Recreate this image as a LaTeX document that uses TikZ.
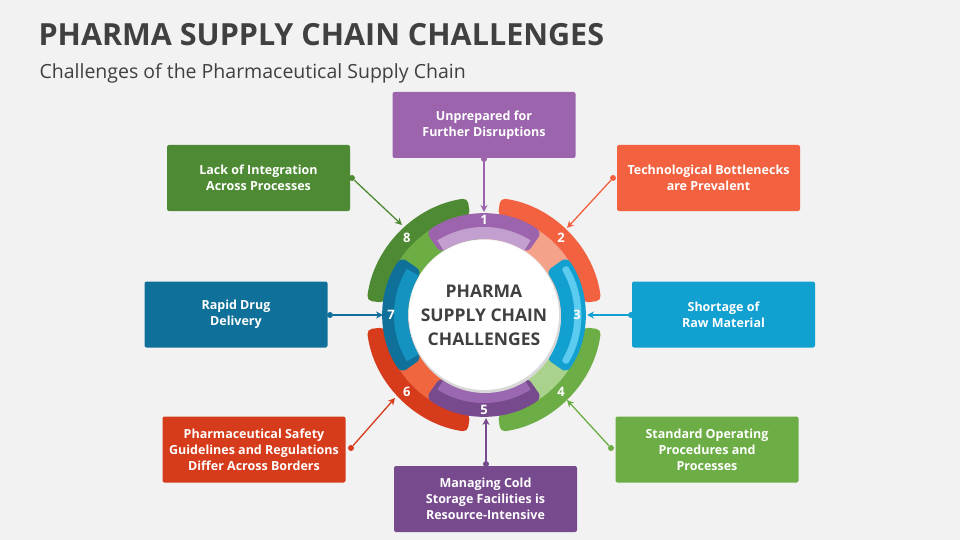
\documentclass[tikz,border=0pt]{standalone}
\usepackage{fontspec}
\setmainfont{Open Sans}
\usetikzlibrary{calc,arrows.meta}
\definecolor{bg}{HTML}{F2F2F2}
\definecolor{cA}{HTML}{9C64AC}
\definecolor{cAl}{HTML}{C39FCF}
\definecolor{cB}{HTML}{F26140}
\definecolor{cBl}{HTML}{F4A28A}
\definecolor{cC}{HTML}{11A0D0}
\definecolor{cCl}{HTML}{5CCBF0}
\definecolor{cD}{HTML}{6CAE45}
\definecolor{cDl}{HTML}{A9D38C}
\definecolor{cE}{HTML}{774A8E}
\definecolor{cEl}{HTML}{9A68B0}
\definecolor{cF}{HTML}{D63B1B}
\definecolor{cFl}{HTML}{F0663E}
\definecolor{cG}{HTML}{0F7099}
\definecolor{cGl}{HTML}{1492C0}
\definecolor{cH}{HTML}{4E8A33}
\definecolor{cHl}{HTML}{6DAE44}
\definecolor{tx}{HTML}{404040}
\tikzset{
  box/.style={rounded corners=2pt,minimum width=183pt,minimum height=66pt,text=white,align=center,font=\fontsize{12.5}{16}\selectfont\bfseries,inner sep=0pt},
  con/.style={line width=1.3pt,-{Stealth[length=7pt,width=7pt]}},
  dot/.style={circle,inner sep=0pt,minimum size=6pt},
  num/.style={text=white,font=\fontsize{13}{13}\selectfont\bfseries}
}
\newcommand{\sect}[5]{\fill[#5] ($(C)+(#1:#3)$) arc[start angle=#1,end angle=#2,radius=#3] -- ($(C)+(#2:#4)$) arc[start angle=#2,end angle=#1,radius=#4] -- cycle;}
\begin{document}
\begin{tikzpicture}[x=1pt,y=1pt]
\fill[bg] (0,0) rectangle (960,-540);
\useasboundingbox (0,0) rectangle (960,-540);
\node[anchor=west,text=tx,font=\fontsize{30.5}{30}\selectfont\bfseries] (title) at (35,-35) {PHARMA SUPPLY CHAIN CHALLENGES};
\node[anchor=west,text=tx,font=\fontsize{19.5}{20}\selectfont] (sub) at (36,-73) {Challenges of the Pharmaceutical Supply Chain};
\coordinate (C) at (484,-315);
% corner sectors
\sect{0}{90}{76}{101}{cBl}
\sect{-90}{0}{76}{101}{cDl}
\sect{180}{270}{76}{101}{cFl}
\sect{90}{180}{76}{101}{cHl}
% outer arcs
\sect{7}{82}{100}{118}{cB,rounded corners=5pt}
\sect{-82}{-7}{100}{118}{cD,rounded corners=5pt}
\sect{187}{262}{100}{118}{cF,rounded corners=5pt}
\sect{98}{173}{100}{118}{cH,rounded corners=5pt}
% bands
\sect{55}{125}{76}{101}{cA,rounded corners=6pt}
\sect{58}{122}{76}{88}{cAl}
\sect{-35}{35}{76}{101}{cC,rounded corners=6pt}
\sect{-31}{31}{90}{97}{cCl,rounded corners=3pt}
\sect{-125}{-55}{76}{101}{cE,rounded corners=6pt}
\sect{-122}{-58}{76}{88}{cEl}
\sect{145}{215}{76}{101}{cG,rounded corners=6pt}
\sect{149}{211}{76}{90}{cGl}
% center
\fill[black!15] ($(C)+(1,-2)$) circle (76);
\node[circle,fill=white,minimum size=150pt,inner sep=0pt,align=center,text=tx,font=\fontsize{17.5}{24}\selectfont\bfseries] (ctr) at (C) {PHARMA\\SUPPLY CHAIN\\CHALLENGES};
% numbers
\node[num] (n1) at ($(C)+(90:95)$) {1};
\node[num] (n2) at ($(C)+(45:109)$) {2};
\node[num] (n3) at ($(C)+(0:93)$) {3};
\node[num] (n4) at ($(C)+(-45:109)$) {4};
\node[num] (n5) at ($(C)+(-90:95)$) {5};
\node[num] (n6) at ($(C)+(-135:109)$) {6};
\node[num] (n7) at ($(C)+(180:93)$) {7};
\node[num] (n8) at ($(C)+(135:109)$) {8};
% boxes
\node[box,fill=cA] (b1) at (484,-125) {Unprepared for\\Further Disruptions};
\node[box,fill=cB] (b2) at (708.5,-178) {Technological Bottlenecks\\are Prevalent};
\node[box,fill=cC] (b3) at (723.5,-314.5) {Shortage of\\Raw Material};
\node[box,fill=cD] (b4) at (707,-449.5) {Standard Operating\\Procedures and\\Processes};
\node[box,fill=cE] (b5) at (485.5,-499) {Managing Cold\\Storage Facilities is\\Resource-Intensive};
\node[box,fill=cF] (b6) at (254,-449.5) {Pharmaceutical Safety\\Guidelines and Regulations\\Differ Across Borders};
\node[box,fill=cG] (b7) at (236,-314.5) {Rapid Drug\\Delivery};
\node[box,fill=cH] (b8) at (258.5,-178) {Lack of Integration\\Across Processes};
% connectors
\node[dot,fill=cA] (d1) at (484,-159) {};
\node[dot,fill=cB] (d2) at (613,-178) {};
\node[dot,fill=cC] (d3) at (631,-315) {};
\node[dot,fill=cD] (d4) at (611,-448) {};
\node[dot,fill=cE] (d5) at (486,-464) {};
\node[dot,fill=cF] (d6) at (351,-448) {};
\node[dot,fill=cG] (d7) at (330,-315) {};
\node[dot,fill=cH] (d8) at (352,-178) {};
\coordinate (e1) at (484,-212);
\coordinate (e2) at (567,-228);
\coordinate (e3) at (587,-315);
\coordinate (e4) at (567,-400);
\coordinate (e5) at (486,-418);
\coordinate (e6) at (395,-398);
\coordinate (e7) at (383,-315);
\coordinate (e8) at (402,-225);
\draw[con,cA] (d1) -- (e1);
\draw[con,cB] (d2) -- (e2);
\draw[con,cC] (d3) -- (e3);
\draw[con,cD] (d4) -- (e4);
\draw[con,cE] (d5) -- (e5);
\draw[con,cF] (d6) -- (e6);
\draw[con,cG] (d7) -- (e7);
\draw[con,cH] (d8) -- (e8);
\end{tikzpicture}
\end{document}
